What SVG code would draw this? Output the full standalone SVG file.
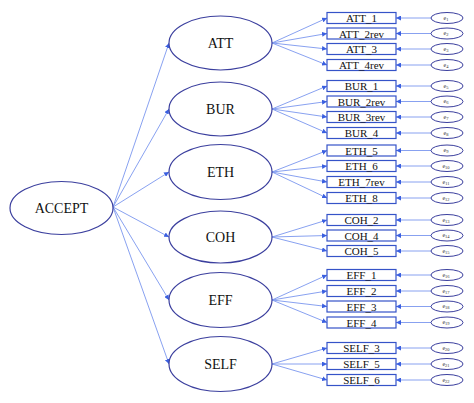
<svg xmlns="http://www.w3.org/2000/svg" width="474" height="403" viewBox="0 0 474 403">
<defs>
<marker id="ah" viewBox="0 0 6 6" refX="6" refY="3" markerWidth="5" markerHeight="5" markerUnits="userSpaceOnUse" orient="auto">
<path d="M0,0 L6,3 L0,6 z" fill="#3a5fe0"/>
</marker>
<style>
.lat ellipse{fill:#fff;stroke:#3b3f9e;stroke-width:1.2}
.lat text{font-family:"Liberation Serif",serif;font-size:14px;fill:#111;text-anchor:middle;dominant-baseline:central}
.ind rect{fill:#fff;stroke:#3553c8;stroke-width:1.2}
.ind text{font-family:"Liberation Serif",serif;font-size:11px;fill:#111;text-anchor:middle;dominant-baseline:central}
.err ellipse{fill:#fff;stroke:#3b3f9e;stroke-width:1}
.err text{font-family:"Liberation Serif",serif;font-size:6px;fill:#333;text-anchor:middle}
.err tspan{font-size:4.5px}
#connectors line{stroke:#7a96ee;stroke-width:0.9;marker-end:url(#ah)}
</style>
</defs>
<rect width="474" height="403" fill="#fff"/>
<g id="connectors">
<line x1="113" y1="207" x2="169" y2="43"/>
<line x1="113" y1="207" x2="169" y2="109"/>
<line x1="113" y1="207" x2="169" y2="172"/>
<line x1="113" y1="207" x2="169" y2="237"/>
<line x1="113" y1="207" x2="169" y2="300"/>
<line x1="113" y1="207" x2="169" y2="364"/>
<line x1="272" y1="43" x2="327" y2="18"/>
<line x1="272" y1="43" x2="327" y2="33.5"/>
<line x1="272" y1="43" x2="327" y2="49"/>
<line x1="272" y1="43" x2="327" y2="65"/>
<line x1="272" y1="109" x2="327" y2="86"/>
<line x1="272" y1="109" x2="327" y2="101.5"/>
<line x1="272" y1="109" x2="327" y2="117"/>
<line x1="272" y1="109" x2="327" y2="133"/>
<line x1="272" y1="172" x2="327" y2="150.5"/>
<line x1="272" y1="172" x2="327" y2="166"/>
<line x1="272" y1="172" x2="327" y2="182"/>
<line x1="272" y1="172" x2="327" y2="198"/>
<line x1="272" y1="237" x2="327" y2="220"/>
<line x1="272" y1="237" x2="327" y2="235.5"/>
<line x1="272" y1="237" x2="327" y2="251"/>
<line x1="272" y1="300" x2="327" y2="275"/>
<line x1="272" y1="300" x2="327" y2="291"/>
<line x1="272" y1="300" x2="327" y2="306.5"/>
<line x1="272" y1="300" x2="327" y2="322.5"/>
<line x1="272" y1="364" x2="327" y2="348"/>
<line x1="272" y1="364" x2="327" y2="364"/>
<line x1="272" y1="364" x2="327" y2="380"/>
<line x1="431" y1="18" x2="396" y2="18"/>
<line x1="431" y1="33.5" x2="396" y2="33.5"/>
<line x1="431" y1="49" x2="396" y2="49"/>
<line x1="431" y1="65" x2="396" y2="65"/>
<line x1="431" y1="86" x2="396" y2="86"/>
<line x1="431" y1="101.5" x2="396" y2="101.5"/>
<line x1="431" y1="117" x2="396" y2="117"/>
<line x1="431" y1="133" x2="396" y2="133"/>
<line x1="431" y1="150.5" x2="396" y2="150.5"/>
<line x1="431" y1="166" x2="396" y2="166"/>
<line x1="431" y1="182" x2="396" y2="182"/>
<line x1="431" y1="198" x2="396" y2="198"/>
<line x1="431" y1="220" x2="396" y2="220"/>
<line x1="431" y1="235.5" x2="396" y2="235.5"/>
<line x1="431" y1="251" x2="396" y2="251"/>
<line x1="431" y1="275" x2="396" y2="275"/>
<line x1="431" y1="291" x2="396" y2="291"/>
<line x1="431" y1="306.5" x2="396" y2="306.5"/>
<line x1="431" y1="322.5" x2="396" y2="322.5"/>
<line x1="431" y1="348" x2="396" y2="348"/>
<line x1="431" y1="364" x2="396" y2="364"/>
<line x1="431" y1="380" x2="396" y2="380"/>
</g>
<g id="ACCEPT" class="lat"><ellipse cx="61.5" cy="208" rx="51.5" ry="26.5"/><text x="61.5" y="208">ACCEPT</text></g>
<g id="ATT" class="lat"><ellipse cx="220.5" cy="43" rx="51.5" ry="27"/><text x="220.5" y="43">ATT</text></g>
<g id="BUR" class="lat"><ellipse cx="220.5" cy="109" rx="51.5" ry="27"/><text x="220.5" y="109">BUR</text></g>
<g id="ETH" class="lat"><ellipse cx="220.5" cy="172" rx="51.5" ry="27.5"/><text x="220.5" y="172">ETH</text></g>
<g id="COH" class="lat"><ellipse cx="220.5" cy="237" rx="51.5" ry="26"/><text x="220.5" y="237">COH</text></g>
<g id="EFF" class="lat"><ellipse cx="220.5" cy="300" rx="51.5" ry="27.5"/><text x="220.5" y="300">EFF</text></g>
<g id="SELF" class="lat"><ellipse cx="220.5" cy="364" rx="51.5" ry="27.5"/><text x="220.5" y="364">SELF</text></g>
<g id="ATT_1" class="ind"><rect x="327" y="12.5" width="69" height="11"/><text x="361.5" y="18">ATT_1</text></g>
<g id="ATT_2rev" class="ind"><rect x="327" y="28" width="69" height="11"/><text x="361.5" y="33.5">ATT_2rev</text></g>
<g id="ATT_3" class="ind"><rect x="327" y="43.5" width="69" height="11"/><text x="361.5" y="49">ATT_3</text></g>
<g id="ATT_4rev" class="ind"><rect x="327" y="59.5" width="69" height="11"/><text x="361.5" y="65">ATT_4rev</text></g>
<g id="BUR_1" class="ind"><rect x="327" y="80.5" width="69" height="11"/><text x="361.5" y="86">BUR_1</text></g>
<g id="BUR_2rev" class="ind"><rect x="327" y="96" width="69" height="11"/><text x="361.5" y="101.5">BUR_2rev</text></g>
<g id="BUR_3rev" class="ind"><rect x="327" y="111.5" width="69" height="11"/><text x="361.5" y="117">BUR_3rev</text></g>
<g id="BUR_4" class="ind"><rect x="327" y="127.5" width="69" height="11"/><text x="361.5" y="133">BUR_4</text></g>
<g id="ETH_5" class="ind"><rect x="327" y="145" width="69" height="11"/><text x="361.5" y="150.5">ETH_5</text></g>
<g id="ETH_6" class="ind"><rect x="327" y="160.5" width="69" height="11"/><text x="361.5" y="166">ETH_6</text></g>
<g id="ETH_7rev" class="ind"><rect x="327" y="176.5" width="69" height="11"/><text x="361.5" y="182">ETH_7rev</text></g>
<g id="ETH_8" class="ind"><rect x="327" y="192.5" width="69" height="11"/><text x="361.5" y="198">ETH_8</text></g>
<g id="COH_2" class="ind"><rect x="327" y="214.5" width="69" height="11"/><text x="361.5" y="220">COH_2</text></g>
<g id="COH_4" class="ind"><rect x="327" y="230" width="69" height="11"/><text x="361.5" y="235.5">COH_4</text></g>
<g id="COH_5" class="ind"><rect x="327" y="245.5" width="69" height="11"/><text x="361.5" y="251">COH_5</text></g>
<g id="EFF_1" class="ind"><rect x="327" y="269.5" width="69" height="11"/><text x="361.5" y="275">EFF_1</text></g>
<g id="EFF_2" class="ind"><rect x="327" y="285.5" width="69" height="11"/><text x="361.5" y="291">EFF_2</text></g>
<g id="EFF_3" class="ind"><rect x="327" y="301" width="69" height="11"/><text x="361.5" y="306.5">EFF_3</text></g>
<g id="EFF_4" class="ind"><rect x="327" y="317" width="69" height="11"/><text x="361.5" y="322.5">EFF_4</text></g>
<g id="SELF_3" class="ind"><rect x="327" y="342.5" width="69" height="11"/><text x="361.5" y="348">SELF_3</text></g>
<g id="SELF_5" class="ind"><rect x="327" y="358.5" width="69" height="11"/><text x="361.5" y="364">SELF_5</text></g>
<g id="SELF_6" class="ind"><rect x="327" y="374.5" width="69" height="11"/><text x="361.5" y="380">SELF_6</text></g>
<g id="e1" class="err"><ellipse cx="447" cy="18" rx="16" ry="5.5"/><text x="446" y="19.5">e<tspan dy="1">1</tspan></text></g>
<g id="e2" class="err"><ellipse cx="447" cy="33.5" rx="16" ry="5.5"/><text x="446" y="35">e<tspan dy="1">2</tspan></text></g>
<g id="e3" class="err"><ellipse cx="447" cy="49" rx="16" ry="5.5"/><text x="446" y="50.5">e<tspan dy="1">3</tspan></text></g>
<g id="e4" class="err"><ellipse cx="447" cy="65" rx="16" ry="5.5"/><text x="446" y="66.5">e<tspan dy="1">4</tspan></text></g>
<g id="e5" class="err"><ellipse cx="447" cy="86" rx="16" ry="5.5"/><text x="446" y="87.5">e<tspan dy="1">5</tspan></text></g>
<g id="e6" class="err"><ellipse cx="447" cy="101.5" rx="16" ry="5.5"/><text x="446" y="103">e<tspan dy="1">6</tspan></text></g>
<g id="e7" class="err"><ellipse cx="447" cy="117" rx="16" ry="5.5"/><text x="446" y="118.5">e<tspan dy="1">7</tspan></text></g>
<g id="e8" class="err"><ellipse cx="447" cy="133" rx="16" ry="5.5"/><text x="446" y="134.5">e<tspan dy="1">8</tspan></text></g>
<g id="e9" class="err"><ellipse cx="447" cy="150.5" rx="16" ry="5.5"/><text x="446" y="152">e<tspan dy="1">9</tspan></text></g>
<g id="e10" class="err"><ellipse cx="447" cy="166" rx="16" ry="5.5"/><text x="446" y="167.5">e<tspan dy="1">10</tspan></text></g>
<g id="e11" class="err"><ellipse cx="447" cy="182" rx="16" ry="5.5"/><text x="446" y="183.5">e<tspan dy="1">11</tspan></text></g>
<g id="e12" class="err"><ellipse cx="447" cy="198" rx="16" ry="5.5"/><text x="446" y="199.5">e<tspan dy="1">12</tspan></text></g>
<g id="e13" class="err"><ellipse cx="447" cy="220" rx="16" ry="5.5"/><text x="446" y="221.5">e<tspan dy="1">13</tspan></text></g>
<g id="e14" class="err"><ellipse cx="447" cy="235.5" rx="16" ry="5.5"/><text x="446" y="237">e<tspan dy="1">14</tspan></text></g>
<g id="e15" class="err"><ellipse cx="447" cy="251" rx="16" ry="5.5"/><text x="446" y="252.5">e<tspan dy="1">15</tspan></text></g>
<g id="e16" class="err"><ellipse cx="447" cy="275" rx="16" ry="5.5"/><text x="446" y="276.5">e<tspan dy="1">16</tspan></text></g>
<g id="e17" class="err"><ellipse cx="447" cy="291" rx="16" ry="5.5"/><text x="446" y="292.5">e<tspan dy="1">17</tspan></text></g>
<g id="e18" class="err"><ellipse cx="447" cy="306.5" rx="16" ry="5.5"/><text x="446" y="308">e<tspan dy="1">18</tspan></text></g>
<g id="e19" class="err"><ellipse cx="447" cy="322.5" rx="16" ry="5.5"/><text x="446" y="324">e<tspan dy="1">19</tspan></text></g>
<g id="e20" class="err"><ellipse cx="447" cy="348" rx="16" ry="5.5"/><text x="446" y="349.5">e<tspan dy="1">20</tspan></text></g>
<g id="e21" class="err"><ellipse cx="447" cy="364" rx="16" ry="5.5"/><text x="446" y="365.5">e<tspan dy="1">21</tspan></text></g>
<g id="e22" class="err"><ellipse cx="447" cy="380" rx="16" ry="5.5"/><text x="446" y="381.5">e<tspan dy="1">22</tspan></text></g>
</svg>
